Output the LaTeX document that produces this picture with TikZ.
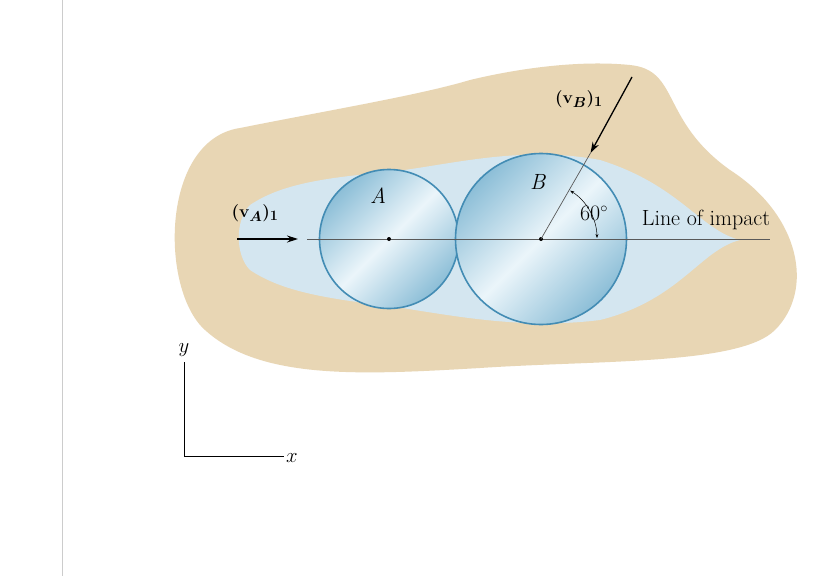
\documentclass[tikz,border=0pt]{standalone}
\usetikzlibrary{arrows.meta}
\definecolor{tan}{RGB}{232,214,180}
\definecolor{halo}{RGB}{212,230,240}
\definecolor{rim}{RGB}{67,140,180}
\definecolor{dk}{RGB}{140,190,215}
\definecolor{lt}{RGB}{235,245,250}
\begin{document}
\begin{tikzpicture}[x=1pt,y=-1pt,
  disk/.style={draw=rim,line width=1.6pt,shading=axis,top color=dk,bottom color=dk,middle color=lt,shading angle=45},
  lbl/.style={font=\fontsize{22}{24}\selectfont,inner sep=1pt},
  vlbl/.style={font=\fontsize{19}{21}\selectfont\boldmath,inner sep=1pt},
  thinl/.style={draw=gray!70!black,line width=0.7pt}]
\useasboundingbox (0,0) rectangle (828,576);
\fill[white] (0,0) rectangle (828,576);
\draw[gray!40,line width=1pt] (62,0) -- (62,576);
\fill[tan] (240,128) .. controls (330,110) and (420,95) .. (470,80)
  .. controls (520,68) and (580,60) .. (630,65)
  .. controls (680,70) and (660,120) .. (730,170)
  .. controls (800,215) and (815,290) .. (775,330)
  .. controls (740,365) and (600,360) .. (480,368)
  .. controls (360,375) and (260,380) .. (205,330)
  .. controls (160,290) and (160,140) .. (240,128) -- cycle;
\fill[halo] (250,205) .. controls (280,185) and (320,178) .. (389,172)
  .. controls (450,165) and (520,145) .. (600,160) .. controls (680,185) and (700,230) .. (740,240)
  .. controls (700,250) and (680,300) .. (600,320) .. controls (520,330) and (450,315) .. (389,306)
  .. controls (320,298) and (280,290) .. (250,270) .. controls (235,255) and (235,220) .. (250,205) -- cycle;
\node[disk,circle,minimum size=139pt,inner sep=0pt] (A) at (389,239) {};
\node[disk,circle,minimum size=171pt,inner sep=0pt] (B) at (541,239) {};
\coordinate (L1) at (307,239);
\coordinate (L2) at (770,239);
\draw[thinl] (L1) -- (L2);
\fill (A.center) circle (2pt);
\fill (B.center) circle (2pt);
\coordinate (Bt) at (590.5,153);
\coordinate (Bs) at (632,77);
\draw[thinl] (B.center) -- (Bt);
\draw[-{Stealth[length=11pt,width=7pt]},line width=1.3pt] (Bs) -- (Bt);
\coordinate (As) at (237,239);
\coordinate (At) at (298,239);
\draw[-{Stealth[length=11pt,width=7pt]},line width=1.3pt] (As) -- (At);
\draw[{Stealth[length=4pt,width=3pt]}-{Stealth[length=4pt,width=3pt]},line width=0.5pt] (597,238) arc[start angle=-1,end angle=-58,radius=57];
\node[lbl] (a60) at (594,213) {60$^\circ$};
\node[lbl] (loi) at (706,220) {Line of impact};
\node[lbl] (lA) at (378,196) {\textit{A}};
\node[lbl] (lB) at (538,182) {\textit{B}};
\node[vlbl] (vA) at (255,213) {$(\mathrm{v}_{A})_1$};
\node[vlbl] (vB) at (579,99) {$(\mathrm{v}_{B})_1$};
\coordinate (O) at (184,456);
\coordinate (Y) at (184,362);
\coordinate (X) at (284,456);
\draw[line width=0.8pt] (Y) -- (O) -- (X);
\node[lbl] (ly) at (184,350) {$y$};
\node[lbl] (lx) at (292,458) {$x$};
\end{tikzpicture}
\end{document}
